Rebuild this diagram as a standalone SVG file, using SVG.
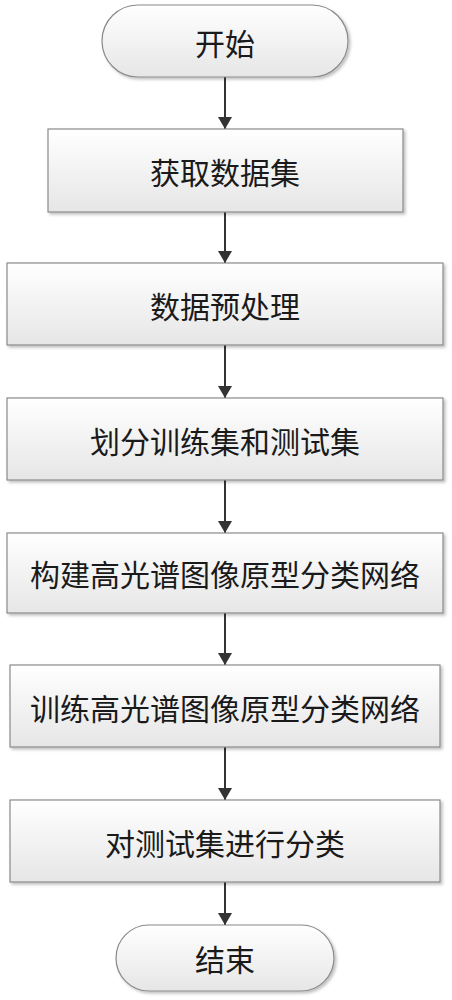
<svg xmlns="http://www.w3.org/2000/svg" width="452" height="1000" viewBox="0 0 452 1000">
<style>
.n{fill:url(#g);stroke:#8a8a8a;stroke-width:1.2;filter:url(#sh)}
.t{font-family:"Noto Sans CJK SC",sans-serif;font-size:30px;fill:#1a1a1a;text-anchor:middle;dominant-baseline:central}
.c{stroke:#333;stroke-width:2;fill:none;marker-end:url(#a)}
</style>
<defs>
<linearGradient id="g" x1="0" y1="0" x2="0" y2="1">
<stop offset="0" stop-color="#ffffff"/>
<stop offset="1" stop-color="#e6e6e6"/>
</linearGradient>
<filter id="sh" x="-5%" y="-5%" width="115%" height="125%">
<feDropShadow dx="2" dy="2" stdDeviation="1.5" flood-color="#000" flood-opacity="0.25"/>
</filter>
<marker id="a" viewBox="0 0 12 14" refX="12" refY="7" markerWidth="12" markerHeight="14" markerUnits="userSpaceOnUse" orient="auto">
<path d="M0,0 L12,7 L0,14 Z" fill="#333"/>
</marker>
</defs>
<g id="connectors">
<line class="c" x1="225" y1="77" x2="225" y2="129"/>
<line class="c" x1="225" y1="212" x2="225" y2="263"/>
<line class="c" x1="225" y1="345" x2="225" y2="398"/>
<line class="c" x1="225" y1="480" x2="225" y2="533"/>
<line class="c" x1="225" y1="613" x2="225" y2="665"/>
<line class="c" x1="225" y1="747" x2="225" y2="800"/>
<line class="c" x1="225" y1="882" x2="225" y2="925"/>
</g>
<g id="start">
<rect class="n" x="102" y="5" width="246" height="72" rx="36" ry="36"/>
<text class="t" x="225" y="42">开始</text>
</g>
<g id="n1">
<rect class="n" x="48" y="129" width="355" height="83"/>
<text class="t" x="225" y="171">获取数据集</text>
</g>
<g id="n2">
<rect class="n" x="7" y="263" width="436" height="82"/>
<text class="t" x="225" y="305">数据预处理</text>
</g>
<g id="n3">
<rect class="n" x="7" y="398" width="436" height="82"/>
<text class="t" x="225" y="440">划分训练集和测试集</text>
</g>
<g id="n4">
<rect class="n" x="7" y="533" width="436" height="80"/>
<text class="t" x="225" y="573">构建高光谱图像原型分类网络</text>
</g>
<g id="n5">
<rect class="n" x="10" y="665" width="430" height="82"/>
<text class="t" x="225" y="707">训练高光谱图像原型分类网络</text>
</g>
<g id="n6">
<rect class="n" x="10" y="800" width="430" height="82"/>
<text class="t" x="225" y="842">对测试集进行分类</text>
</g>
<g id="end">
<rect class="n" x="116" y="925" width="218" height="66" rx="33" ry="33"/>
<text class="t" x="225" y="958">结束</text>
</g>
</svg>
